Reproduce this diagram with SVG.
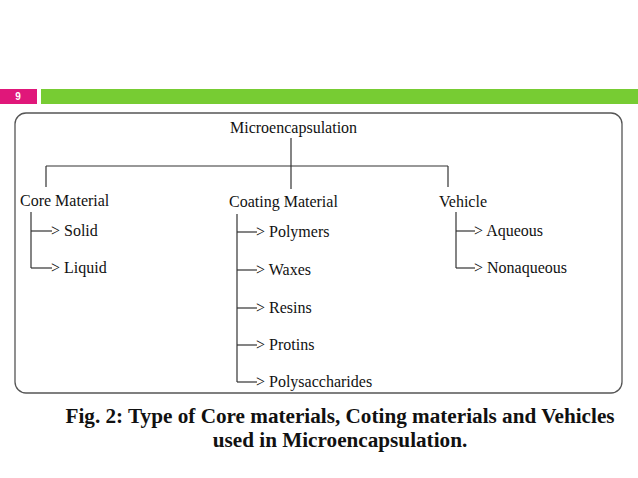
<svg xmlns="http://www.w3.org/2000/svg" width="638" height="478" viewBox="0 0 638 478">
<style>
text{font-family:"Liberation Serif","Times New Roman",serif;fill:#111}
.t{font-size:16px}
.c{font-size:21.2px;font-weight:bold;text-anchor:middle}
line{stroke:#333;stroke-width:1.2}
</style>
<rect width="638" height="478" fill="#fff"/>
<g id="header">
<rect x="0" y="89" width="37" height="15" fill="#e0177a"/>
<text x="18" y="100" style="font-family:'Liberation Sans',Arial,sans-serif;font-size:10px;font-weight:bold;fill:#fff" text-anchor="middle">9</text>
<rect x="41" y="89" width="597" height="15" fill="#77cc33"/>
</g>
<rect x="15" y="113" width="607" height="280" rx="11" fill="none" stroke="#555" stroke-width="1.3"/>
<g id="connectors">
<line x1="291" y1="138" x2="291" y2="189"/>
<line x1="46" y1="166" x2="448" y2="166"/>
<line x1="46" y1="166" x2="46" y2="187"/>
<line x1="448" y1="166" x2="448" y2="187"/>
<line x1="31" y1="212" x2="31" y2="268"/>
<line x1="31" y1="231" x2="52" y2="231"/>
<line x1="31" y1="268" x2="52" y2="268"/>
<line x1="237" y1="214" x2="237" y2="382"/>
<line x1="237" y1="232" x2="257" y2="232"/>
<line x1="237" y1="270" x2="257" y2="270"/>
<line x1="237" y1="308" x2="257" y2="308"/>
<line x1="237" y1="345" x2="257" y2="345"/>
<line x1="237" y1="382" x2="257" y2="382"/>
<line x1="456" y1="212" x2="456" y2="268"/>
<line x1="456" y1="231" x2="475" y2="231"/>
<line x1="456" y1="268" x2="475" y2="268"/>
</g>
<g id="root"><text class="t" x="230" y="133">Microencapsulation</text></g>
<g id="core"><text class="t" x="20" y="206">Core Material</text></g>
<g id="coating"><text class="t" x="229" y="207">Coating Material</text></g>
<g id="vehicle"><text class="t" x="439" y="207">Vehicle</text></g>
<g id="solid"><text class="t" x="51" y="236">&gt; Solid</text></g>
<g id="liquid"><text class="t" x="51" y="273">&gt; Liquid</text></g>
<g id="polymers"><text class="t" x="256" y="237">&gt; Polymers</text></g>
<g id="waxes"><text class="t" x="256" y="275">&gt; Waxes</text></g>
<g id="resins"><text class="t" x="256" y="313">&gt; Resins</text></g>
<g id="protins"><text class="t" x="256" y="350">&gt; Protins</text></g>
<g id="poly"><text class="t" x="256" y="387">&gt; Polysaccharides</text></g>
<g id="aqueous"><text class="t" x="474" y="236">&gt; Aqueous</text></g>
<g id="nonaqueous"><text class="t" x="474" y="273">&gt; Nonaqueous</text></g>
<g id="caption">
<text class="c" x="340" y="423">Fig. 2: Type of Core materials, Coting materials and Vehicles</text>
<text class="c" x="340" y="447">used in Microencapsulation.</text>
</g>
</svg>
